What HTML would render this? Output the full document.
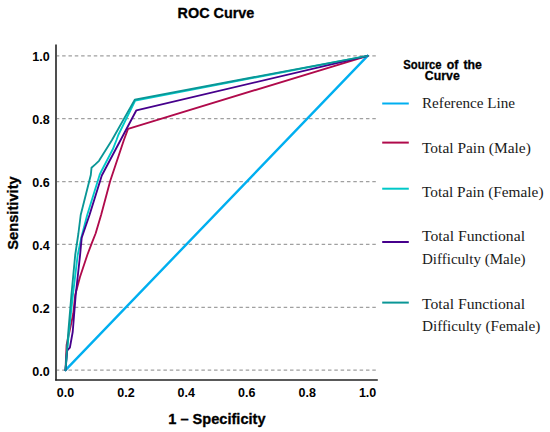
<!DOCTYPE html>
<html>
<head>
<meta charset="utf-8">
<style>
html,body{margin:0;padding:0;background:#fff;}
body{width:550px;height:432px;overflow:hidden;}
svg{display:block;}
.b{font-family:"Liberation Sans",sans-serif;font-weight:bold;fill:#000;stroke:#000;stroke-width:0.3;}
.s{font-family:"Liberation Serif",serif;fill:#1a1a1a;font-size:15px;}
.tk{font-size:12.5px;stroke:none;}
.grid{stroke:#a0a0a0;stroke-width:1.25;stroke-dasharray:3.5 2.83;stroke-dashoffset:1.2;fill:none;}
.c{fill:none;stroke-width:1.85;stroke-linejoin:round;stroke-linecap:round;}
</style>
</head>
<body>
<svg width="550" height="432" viewBox="0 0 550 432" xmlns="http://www.w3.org/2000/svg">
<rect width="550" height="432" fill="#fff"/>
<!-- title -->
<text class="b" x="216" y="17.5" font-size="14.4" text-anchor="middle">ROC Curve</text>

<!-- grid lines -->
<line class="grid" x1="57" y1="55.8" x2="377.5" y2="55.8"/>
<line class="grid" x1="57" y1="118.7" x2="377.5" y2="118.7"/>
<line class="grid" x1="57" y1="181.6" x2="377.5" y2="181.6"/>
<line class="grid" x1="57" y1="244.4" x2="377.5" y2="244.4"/>
<line class="grid" x1="57" y1="307.3" x2="377.5" y2="307.3"/>
<line class="grid" x1="57" y1="370.2" x2="377.5" y2="370.2"/>

<!-- axes -->
<line x1="56" y1="44.5" x2="56" y2="380.6" stroke="#222" stroke-width="1.6"/>
<line x1="55.2" y1="380" x2="377.8" y2="380" stroke="#222" stroke-width="1.4"/>

<!-- y tick labels -->
<g class="b tk" text-anchor="end">
<text x="49.7" y="61.3">1.0</text>
<text x="49.7" y="124.2">0.8</text>
<text x="49.7" y="187.1">0.6</text>
<text x="49.7" y="249.9">0.4</text>
<text x="49.7" y="312.8">0.2</text>
<text x="49.7" y="375.7">0.0</text>
</g>
<!-- x tick labels -->
<g class="b tk" text-anchor="middle">
<text x="65.5" y="396.6">0.0</text>
<text x="125.9" y="396.6">0.2</text>
<text x="186.3" y="396.6">0.4</text>
<text x="246.8" y="396.6">0.6</text>
<text x="307.2" y="396.6">0.8</text>
<text x="367.6" y="396.6">1.0</text>
</g>

<!-- axis titles -->
<text class="b" x="216.9" y="423.6" font-size="14.6" text-anchor="middle">1 &#8211; Specificity</text>
<text class="b" transform="translate(18.2,213) rotate(-90)" x="0" y="0" font-size="14.7" text-anchor="middle">Sensitivity</text>

<!-- curves -->
<polyline class="c" stroke="#00AFF0" style="stroke-width:2.4" points="65.5,370.2 367.6,55.8"/>
<polyline class="c" stroke="#B00A4B" points="65.5,370.2 66,358 66.6,345 73.3,313.5 75.2,295 79.9,277.2 87.3,255 91.9,242.8 95.6,233.5 101.1,215 110.2,181 123.9,140 128.1,128.8 367.6,55.8"/>
<polyline class="c" stroke="#00C8C8" points="65.5,370.2 68.8,333 72.9,295 77.7,255 81.2,238.1 87.2,215 99.6,175 101.2,171.5 112.8,149.3 116.5,140 118.3,135 135.2,100.6 367.6,55.8"/>
<polyline class="c" stroke="#46008C" points="65.5,370.2 67.1,350.5 68.5,349.1 69.9,347.7 72.7,332 75.7,295 80.1,255 81.2,242.8 81.7,237.7 89.5,215 101.8,175.5 136.4,110.3 367.6,55.8"/>
<polyline class="c" stroke="#0A9696" points="65.5,370.2 68.3,332 71.4,295 75.2,255 78.4,233.5 80.7,215 90.8,175 91.5,167.8 95.3,164.4 99,160.8 112,140 134.8,99.6 367.6,55.8"/>

<!-- legend -->
<text class="b" y="68.5" font-size="12.3"><tspan x="403.3" textLength="38.3" lengthAdjust="spacingAndGlyphs">Source</tspan><tspan x="446.8">of</tspan><tspan x="463.4">the</tspan></text>
<text class="b" x="442.3" y="80" font-size="12.3" text-anchor="middle">Curve</text>

<line x1="382.2" y1="103.5" x2="408.8" y2="103.5" stroke="#00AFF0" stroke-width="2"/>
<line x1="382.2" y1="142.6" x2="408.8" y2="142.6" stroke="#B00A4B" stroke-width="2"/>
<line x1="382.2" y1="188.7" x2="408.8" y2="188.7" stroke="#00C8C8" stroke-width="2"/>
<line x1="382.2" y1="242" x2="408.8" y2="242" stroke="#46008C" stroke-width="2"/>
<line x1="382.2" y1="302.6" x2="408.8" y2="302.6" stroke="#0A9696" stroke-width="2"/>

<text class="s" x="422" y="108.3" textLength="93" lengthAdjust="spacingAndGlyphs">Reference Line</text>
<text class="s" x="422" y="152.5" textLength="108.8" lengthAdjust="spacingAndGlyphs">Total Pain (Male)</text>
<text class="s" x="422" y="197.2" textLength="121.5" lengthAdjust="spacingAndGlyphs">Total Pain (Female)</text>
<text class="s" x="422" y="241.4" textLength="103" lengthAdjust="spacingAndGlyphs">Total Functional</text>
<text class="s" x="422" y="264" textLength="103.6" lengthAdjust="spacingAndGlyphs">Difficulty (Male)</text>
<text class="s" x="422" y="308.6" textLength="103" lengthAdjust="spacingAndGlyphs">Total Functional</text>
<text class="s" x="422" y="331" textLength="118.4" lengthAdjust="spacingAndGlyphs">Difficulty (Female)</text>
</svg>
</body>
</html>
